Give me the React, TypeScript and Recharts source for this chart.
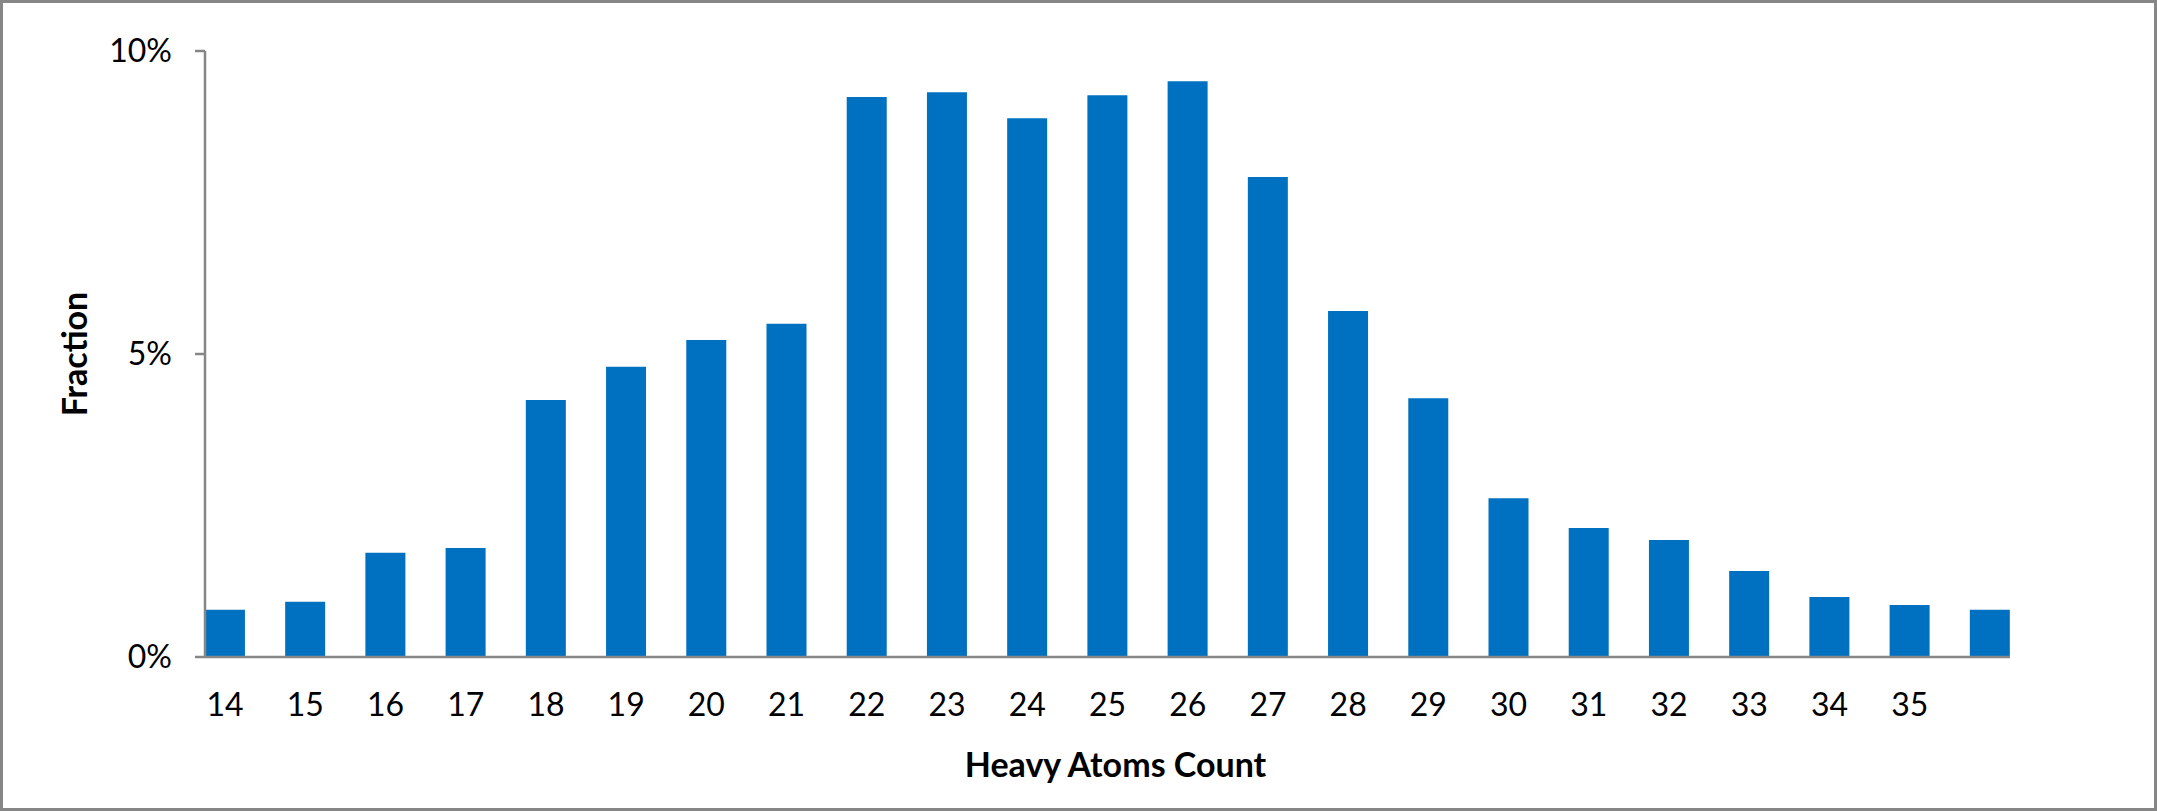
import { BarChart, Bar, XAxis, YAxis, Label } from 'recharts';

// heavy atom count per molecule (last bar has no tick label in the source chart)
const heavyAtoms = [14, 15, 16, 17, 18, 19, 20, 21, 22, 23, 24, 25, 26, 27, 28, 29, 30, 31, 32, 33, 34, 35, 36];
// fraction of molecules, in percent
const fractionPct = [
  0.78, 0.91, 1.72, 1.8, 4.24, 4.79, 5.23, 5.5, 9.24, 9.32, 8.89, 9.27,
  9.5, 7.92, 5.71, 4.27, 2.62, 2.13, 1.93, 1.42, 0.99, 0.86, 0.78,
];
const xTicks = [14, 15, 16, 17, 18, 19, 20, 21, 22, 23, 24, 25, 26, 27, 28, 29, 30, 31, 32, 33, 34, 35];
const yTicks = [0, 5, 10];

const data = heavyAtoms.map((count, i) => ({ count, fraction: fractionPct[i] }));

const FONT = 'Lato, Carlito, Calibri, sans-serif';
const AXIS_GRAY = '#868686';

export default function App() {
  return (
    <div
      style={{
        position: 'absolute',
        left: 0,
        top: 0,
        width: 2157,
        height: 811,
        boxSizing: 'border-box',
        border: `3px solid ${AXIS_GRAY}`,
        background: '#fff',
      }}
    >
      <BarChart
        width={2151}
        height={805}
        data={data}
        margin={{ top: 48, right: 144, left: 0, bottom: 0 }}
        style={{ fontFamily: FONT }}
      >
        <XAxis
          dataKey="count"
          type="number"
          domain={[13.75, 36.25]}
          ticks={xTicks}
          interval={0}
          height={151}
          tickLine={false}
          tickSize={0}
          tickMargin={36}
          axisLine={{ stroke: AXIS_GRAY, strokeWidth: 2.5 }}
          tick={{ fill: '#000', fontSize: 32, fontFamily: FONT }}
        >
          <Label
            value="Heavy Atoms Count"
            position="insideBottom"
            offset={31}
            dx={8}
            fill="#000"
            fontSize={34}
            fontWeight="bold"
            fontFamily={FONT}
          />
        </XAxis>
        <YAxis
          domain={[0, 10]}
          ticks={yTicks}
          width={202}
          tickSize={10}
          tickMargin={23}
          tickFormatter={(v) => `${v}%`}
          axisLine={{ stroke: AXIS_GRAY, strokeWidth: 2.5 }}
          tickLine={{ stroke: AXIS_GRAY, strokeWidth: 2.5 }}
          tick={{ fill: '#000', fontSize: 32, fontFamily: FONT }}
        >
          <Label
            value="Fraction"
            angle={-90}
            position="insideLeft"
            offset={72}
            fill="#000"
            fontSize={34}
            fontWeight="bold"
            fontFamily={FONT}
            style={{ textAnchor: 'middle' }}
          />
        </YAxis>
        <Bar dataKey="fraction" fill="#0070C0" barSize={40} isAnimationActive={false} />
      </BarChart>
    </div>
  );
}
